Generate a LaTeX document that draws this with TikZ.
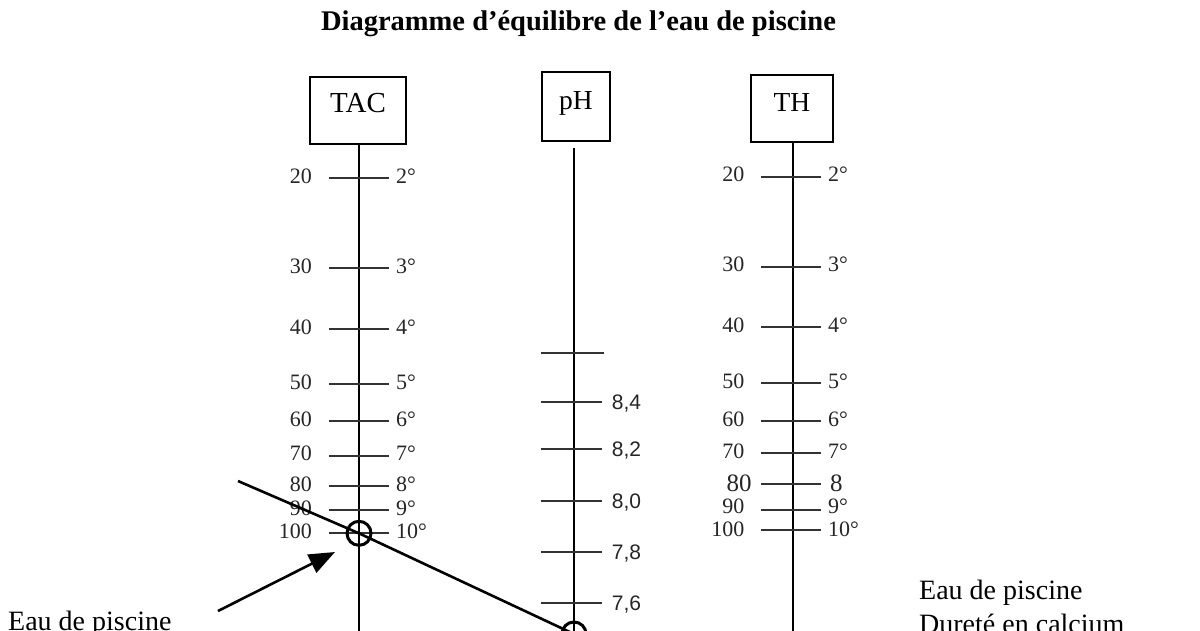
\documentclass[tikz,border=0pt]{standalone}
\usepackage{fontspec}
\setmainfont{Liberation Serif}
\newfontfamily\sansf{Liberation Sans}
\usetikzlibrary{arrows.meta}
\tikzset{
  axisline/.style={line width=1.7pt, black},
  tickline/.style={line width=2pt, black!80},
  scalebox/.style={draw, line width=2pt, inner sep=0pt},
  numl/.style={font=\fontsize{22}{24}\selectfont, anchor=base east, inner sep=0pt, text=black!85},
  numr/.style={font=\fontsize{22}{24}\selectfont, anchor=base west, inner sep=0pt, text=black!85},
  numbig/.style={font=\fontsize{25}{27}\selectfont, inner sep=0pt, text=black!85},
  phlab/.style={font=\sansf\fontsize{21}{24}\selectfont, anchor=base west, inner sep=0pt, text=black!85},
  txtlab/.style={font=\fontsize{28}{34}\selectfont, anchor=base west, inner sep=0pt},
  markpt/.style={circle, draw, line width=3pt, minimum size=24pt, inner sep=0pt},
  readline/.style={line width=2.6pt},
}
\begin{document}
\begin{tikzpicture}[x=1pt,y=-1pt]
\useasboundingbox (0,0) rectangle (1200,630);
\clip (0,0) rectangle (1200,630);
\fill[white] (0,0) rectangle (1200,630);
\coordinate (bottom) at (0,650);

% title
\node[font=\bfseries\fontsize{28.5}{34}\selectfont, anchor=base, inner sep=0pt] (title) at (578.5,30.4) {Diagramme d’équilibre de l’eau de piscine};

% boxes
\node[scalebox, minimum width=95.7pt, minimum height=67.3pt,
      font=\fontsize{29}{32}\selectfont, text height=19.2pt, text depth=15.2pt] (tac) at (358,110.7) {TAC};
\node[scalebox, minimum width=67.7pt, minimum height=69.3pt,
      font=\fontsize{27.5}{32}\selectfont, text height=18.2pt, text depth=11.1pt] (ph) at (576,106.4) {pH};
\node[scalebox, minimum width=82.6pt, minimum height=67.3pt,
      font=\fontsize{27.5}{32}\selectfont, text height=18.2pt, text depth=12.2pt] (th) at (792,108.7) {TH};

% axes
\coordinate (tactop) at (359,144.3);
\coordinate (phtop) at (574,147.7);
\coordinate (thtop) at (792.7,142.3);
\draw[axisline] (tactop) -- (tactop |- bottom);
\draw[axisline] (phtop) -- (phtop |- bottom);
\draw[axisline] (thtop) -- (thtop |- bottom);

% TAC scale
\foreach \y/\l/\r in {178.3/20/2°, 268.3/30/3°, 329.3/40/4°, 384.3/50/5°, 421/60/6°, 455.7/70/7°, 486/80/8°, 510/90/9°, 533.3/100/10°}{
  \draw[tickline] (329,\y) -- (389.3,\y);
  \node[numl] at (312,\y+5) {\l};
  \node[numr] at (396,\y+5) {\r};
}

% pH scale
\draw[tickline] (541,353.3) -- (604,353.3);
\foreach \y/\l in {402.3/{8,4}, 449.3/{8,2}, 501/{8,0}, 551.7/{7,8}, 602.7/{7,6}}{
  \draw[tickline] (541,\y) -- (602.3,\y);
  \node[phlab] at (611.7,\y+7.5) {\l};
}

% TH scale
\foreach \y/\l/\r/\d in {176.7/20/2°/5, 266.7/30/3°/5, 327.3/40/4°/5, 383.3/50/5°/5, 421/60/6°/5, 453.3/70/7°/5, 510/90/9°/3, 530/100/10°/6.5}{
  \draw[tickline] (761,\y) -- (821,\y);
  \node[numl] at (744.5,\y+\d) {\l};
  \node[numr] at (828,\y+\d) {\r};
}
\draw[tickline] (761,484.3) -- (821,484.3);
\node[numbig, anchor=base east] at (751.7,491.7) {80};
\node[numbig, anchor=base west] at (830,491.7) {8};

% reading line and points
\node[markpt] (tacpt) at (359,533.3) {};
\node[markpt] (phpt) at (574,634) {};
\coordinate (lstart) at (238,481);
\draw[readline] (lstart) -- (tacpt.center) -- (phpt.center);

% arrow
\coordinate (atail) at (218,611);
\coordinate (atip) at (335,552);
\draw[readline, -{Triangle[length=26pt,width=20pt]}] (atail) -- (atip);

% texts
\node[txtlab] (leftlab) at (8,630.5) {Eau de piscine};
\node[txtlab] (rightlab1) at (919,599) {Eau de piscine};
\node[txtlab] (rightlab2) at (919,633) {Dureté en calcium};
\end{tikzpicture}
\end{document}
